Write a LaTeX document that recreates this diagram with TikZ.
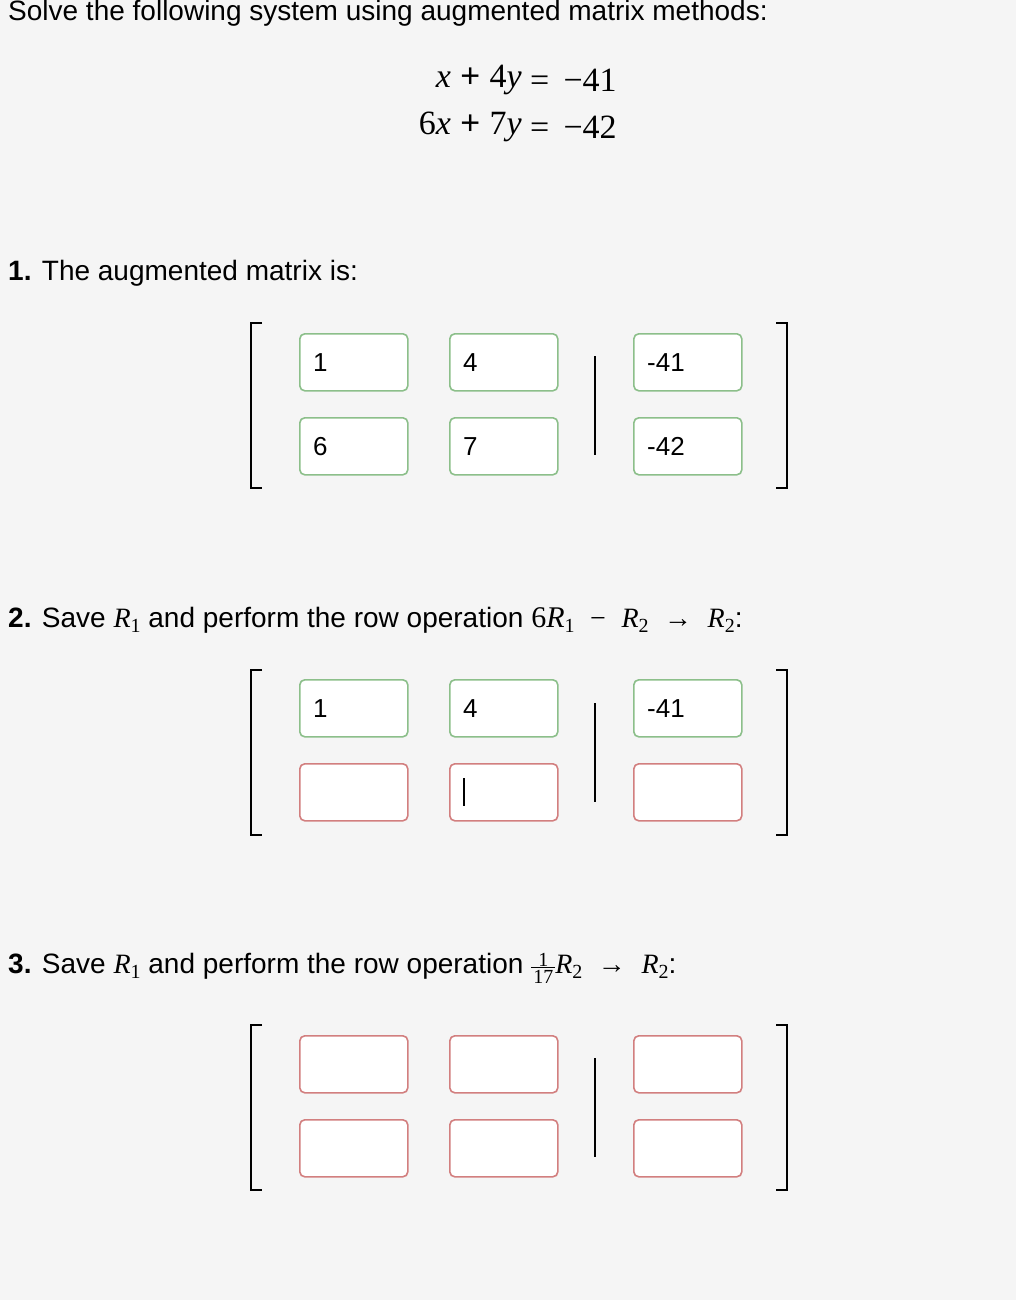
\documentclass[tikz,border=0pt]{standalone}
\usepackage{fontspec}
\setmainfont{Liberation Sans}
\newfontfamily\mf{Liberation Serif}
\newcommand{\mi}[1]{{\mf\itshape #1}}
\newcommand{\mn}[1]{{\mf #1}}
\newcommand{\sbs}[1]{\raisebox{-5pt}{\mn{\fontsize{20}{20}\selectfont #1}}}
\begin{document}
\begin{tikzpicture}[x=1pt,y=-1pt,
  cell/.style={draw=#1,line width=1.6pt,rounded corners=5pt,fill=white,minimum width=108pt,minimum height=57pt,anchor=north west,inner sep=0pt},
  txt/.style={anchor=west,inner sep=0pt,font=\fontsize{28}{34}\selectfont},
  eqs/.style={inner sep=0pt,font=\fontsize{34}{40}\selectfont},
  val/.style={anchor=west,inner sep=0pt,font=\fontsize{26}{30}\selectfont}]
\definecolor{gb}{HTML}{8CBF8A}\definecolor{rb}{HTML}{D27F7F}
\fill[white!96!black] (0,0) rectangle (1016,1300);
\useasboundingbox (0,0) rectangle (1016,1300);
\node[txt] (title) at (8,13) {Solve the following system using augmented matrix methods:};
\node[eqs,anchor=east] (eq1l) at (522,80) {\mi{x} + \mn{4}\mi{y}};
\node[eqs,anchor=west] (eq1r) at (530,80) {\mn{=\, −41}};
\node[eqs,anchor=east] (eq2l) at (522,127) {\mn{6}\mi{x} + \mn{7}\mi{y}};
\node[eqs,anchor=west] (eq2r) at (530,127) {\mn{=\, −42}};
\node[txt] (s1) at (8,273) {\textbf{1.} The augmented matrix is:};
\node[txt] (s2) at (8,620) {\textbf{2.} Save \mi{R}\sbs{1} and perform the row operation \mn{\fontsize{30}{30}\selectfont 6}\mi{\fontsize{30}{30}\selectfont R}\sbs{1} \ {\mf −} \ \mi{R}\sbs{2} \ {\mf →} \ \mi{R}\sbs{2}:};
\node[txt] (s3) at (8,968) {\textbf{3.} Save \mi{R}\sbs{1} and perform the row operation \raisebox{-10pt}{\mf\fontsize{20}{20}\selectfont\vbox{\hbox to 24pt{\hss 1\hss}\kern1pt\hrule height 0.9pt\kern2pt\hbox to 24pt{\hss 17\hss}}}\mi{R}\sbs{2} \ {\mf →} \ \mi{R}\sbs{2}:};
\foreach \t/\ya/\yb/\ca/\cb/\cc/\cd/\ce/\cf/\la/\lb/\lc/\ld/\le/\lf/\id in {
 323/333/417/gb/gb/gb/gb/gb/gb/1/4/-41/6/7/-42/a,
 670/679/763/gb/gb/gb/rb/rb/rb/1/4/-41/{}/{}/{}/b,
 1025/1035/1119/rb/rb/rb/rb/rb/rb/{}/{}/{}/{}/{}/{}/c}{
  \node[cell=\ca] (\id11) at (299,\ya) {}; \node[val] at ([xshift=14pt]\id11.west) {\la};
  \node[cell=\cb] (\id12) at (449,\ya) {}; \node[val] at ([xshift=14pt]\id12.west) {\lb};
  \node[cell=\cc] (\id13) at (633,\ya) {}; \node[val] at ([xshift=14pt]\id13.west) {\lc};
  \node[cell=\cd] (\id21) at (299,\yb) {}; \node[val] at ([xshift=14pt]\id21.west) {\ld};
  \node[cell=\ce] (\id22) at (449,\yb) {}; \node[val] at ([xshift=14pt]\id22.west) {\le};
  \node[cell=\cf] (\id23) at (633,\yb) {}; \node[val] at ([xshift=14pt]\id23.west) {\lf};
  \draw[line width=2pt] (262,\t) -- (251,\t) -- (251,\t+165) -- (262,\t+165);
  \draw[line width=2pt] (776,\t) -- (787,\t) -- (787,\t+165) -- (776,\t+165);
  \draw[line width=2pt] (595,\t+33) -- (595,\t+132);
}
\draw[line width=1.5pt] (464,778) -- (464,806);
\end{tikzpicture}
\end{document}
